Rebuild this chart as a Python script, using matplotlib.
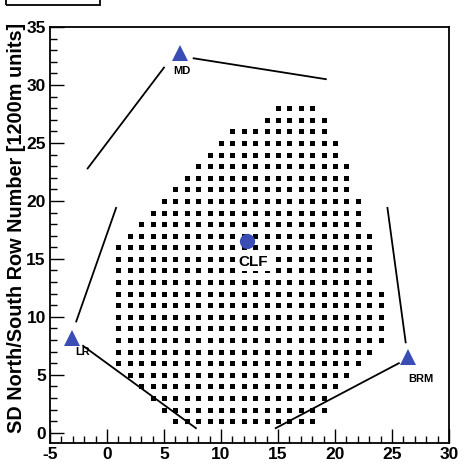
import matplotlib
matplotlib.use("Agg")
import matplotlib.pyplot as plt
from matplotlib.patches import Rectangle

plt.rcParams['font.family'] = ['Liberation Sans', 'DejaVu Sans']
plt.rcParams['axes.unicode_minus'] = False

# detector rows: row number, first column, last column
row_y = [28, 27, 26, 25, 24, 23, 22, 21, 20, 19, 18, 17, 16, 15,
         14, 13, 12, 11, 10, 9, 8, 7, 6, 5, 4, 3, 2, 1]
row_first = [15, 14, 11, 10, 9, 8, 7, 6, 5, 4, 3, 2, 1, 1,
             1, 1, 1, 1, 1, 1, 1, 1, 1, 2, 3, 4, 5, 6]
row_last = [18, 19, 19, 20, 20, 21, 21, 21, 22, 22, 22, 23, 23, 23,
            23, 23, 24, 24, 24, 24, 24, 23, 22, 21, 20, 19, 19, 18]

# fluorescence detector sites
fd_names = ['MD', 'LR', 'BRM']
fd_x = [6.4, -3.05, 26.4]
fd_y = [32.8, 8.2, 6.5]
fd_label_x = [6.6, -2.1, 27.5]
fd_label_y = [31.2, 7.0, 4.6]

# field of view edges (x0, y0, x1, y1)
fov_lines = [
    (5.0, 31.5, -1.7, 22.8),
    (7.6, 32.3, 19.2, 30.5),
    (-2.7, 9.6, 0.8, 19.4),
    (-2.1, 7.5, 7.8, 0.4),
    (24.6, 19.4, 26.2, 7.8),
    (25.6, 6.0, 14.8, 0.4),
]

clf_x, clf_y = 12.25, 16.5

blue = '#3a4db5'

sd_x = []
sd_y = []
for y, a, b in zip(row_y, row_first, row_last):
    for x in range(a, b + 1):
        sd_x.append(x)
        sd_y.append(y)

fig = plt.figure(figsize=(4.74, 4.74), dpi=100)
ax = fig.add_axes([50/474, 31/474, 399/474, 416/474])

ax.plot(sd_x, sd_y, 's', color='black', ms=3.6, mew=0, zorder=2)

for x0, y0, x1, y1 in fov_lines:
    ax.plot([x0, x1], [y0, y1], color='black', lw=1.3, zorder=1)

ax.plot(fd_x, fd_y, '^', color=blue, ms=12, mew=0, zorder=4)
for n, lx, ly in zip(fd_names, fd_label_x, fd_label_y):
    ax.text(lx, ly, n, fontsize=8, fontweight='bold', ha='center', va='center', zorder=5)

ax.text(12.8, 14.75, 'CLF', fontsize=11, fontweight='bold', ha='center', va='center', zorder=3,
        bbox=dict(facecolor='white', edgecolor='none', pad=1.5))
ax.plot([clf_x], [clf_y], 'o', color=blue, ms=11, mew=0, zorder=4)

ax.set_xlim(-5, 30)
ax.set_ylim(-0.88, 35)
ax.set_xticks(range(-5, 31, 5))
ax.set_yticks(range(0, 36, 5))
ax.set_xticks(range(-5, 31), minor=True)
ax.set_yticks(range(0, 36), minor=True)
ax.tick_params(which='both', direction='in', top=False, right=False, width=1)
ax.tick_params(which='major', length=10, labelsize=12.5, pad=3)
ax.tick_params(which='minor', length=5)
for lab in ax.get_xticklabels() + ax.get_yticklabels():
    lab.set_fontweight('bold')
for s in ax.spines.values():
    s.set_linewidth(1.3)

fig.text(17/474, 1 - 228/474, 'SD North/South Row Number [1200m units]', rotation=90,
         ha='center', va='center', fontsize=14.3, fontweight='bold')

# box at top left, mostly cut off
fig.patches.append(Rectangle((6/474, 1 - 5/474), 94/474, 0.05, transform=fig.transFigure,
                             facecolor='none', edgecolor='black', lw=1.3, clip_on=False))

fig.savefig('out.png', dpi=100)
